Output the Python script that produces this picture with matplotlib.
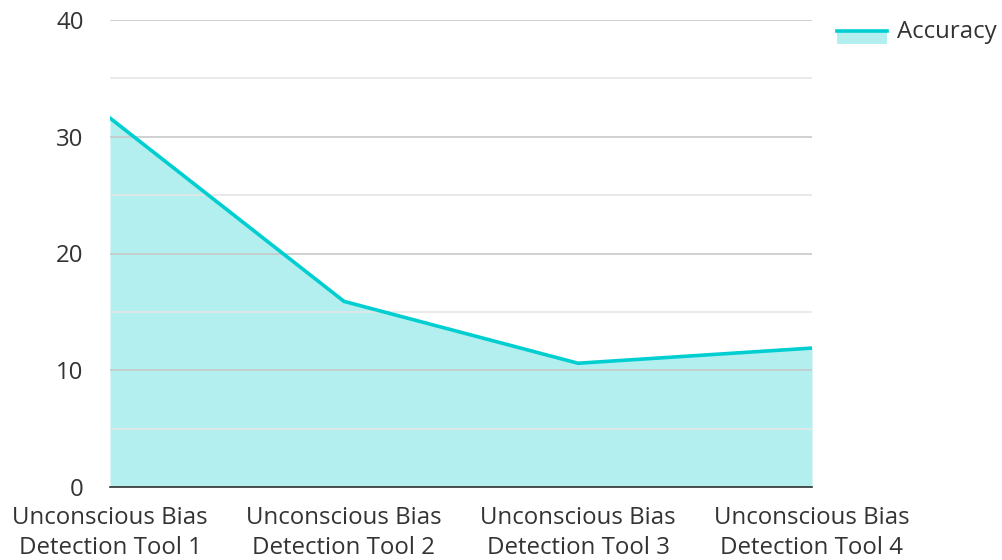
import matplotlib
matplotlib.use("Agg")
import matplotlib.pyplot as plt
from matplotlib.patches import Rectangle
from matplotlib.lines import Line2D

categories = ["Unconscious Bias\nDetection Tool 1", "Unconscious Bias\nDetection Tool 2",
              "Unconscious Bias\nDetection Tool 3", "Unconscious Bias\nDetection Tool 4"]
accuracy = [31.6, 15.9, 10.6, 11.9]

plt.rcParams['font.family'] = ['Open Sans', 'DejaVu Sans']

line_color = '#00CED1'
fill_color = '#B2EFEE'
text_color = '#333333'
fs = 17.3

fig = plt.figure(figsize=(10.02, 5.6), dpi=100)
ax = fig.add_axes([110 / 1002, 1 - 487 / 560, 702 / 1002, 467 / 560])

x = list(range(len(categories)))
ax.fill_between(x, accuracy, 0, color=fill_color, lw=0, zorder=1)
ax.plot(x, accuracy, color=line_color, lw=2.6, zorder=3, solid_joinstyle='miter')

ax.set_xlim(0, len(categories) - 1)
ax.set_ylim(0, 40)
ax.set_yticks([0, 10, 20, 30, 40])
ax.set_yticks([5, 15, 25, 35], minor=True)
ax.grid(True, which='major', axis='y', color='#c8c8c8', lw=1.2, zorder=2)
ax.grid(True, which='minor', axis='y', color='#e6e6e6', lw=1.2, zorder=2)
ax.set_axisbelow(False)

ax.set_xticks(x)
ax.set_xticklabels(categories, fontsize=fs, color=text_color, linespacing=1.33)
ax.tick_params(axis='y', which='both', length=0, pad=19, labelsize=fs, labelcolor=text_color)
ax.tick_params(axis='x', length=0, pad=14)

for side in ['top', 'right', 'left']:
    ax.spines[side].set_visible(False)
ax.spines['bottom'].set_color(text_color)
ax.spines['bottom'].set_linewidth(1.2)
ax.spines['bottom'].set_zorder(4)

# legend
fig.patches.append(Rectangle((837 / 1002, 1 - 44 / 560), 50 / 1002, 14 / 560,
                             transform=fig.transFigure, color=fill_color, lw=0))
fig.lines.append(Line2D([837 / 1002, 887 / 1002], [1 - 31 / 560, 1 - 31 / 560],
                        transform=fig.transFigure, color=line_color, lw=2.6))
fig.text(897 / 1002, 1 - 32 / 560, "Accuracy", fontsize=fs, color=text_color, va='center')

fig.savefig("out.png", dpi=100)
